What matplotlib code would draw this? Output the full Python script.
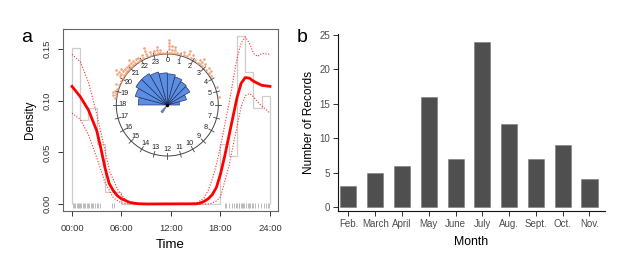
import numpy as np
import matplotlib.pyplot as plt
from matplotlib.patches import Wedge, Circle

plt.rcParams['font.family'] = ['Liberation Sans', 'DejaVu Sans']

# ---- panel a data ----
hist_counts = [13, 7, 8, 5, 1, 1, 0, 0, 0, 0, 0, 0,
               0, 0, 0, 0, 0, 0, 5, 4, 14, 11, 8, 9]  # per hour 0..23

curve_t = [0, 1, 2, 3, 3.5, 4, 4.5, 5, 5.5, 6, 7, 8, 9, 15, 15.5, 16, 16.5, 17,
           17.5, 18, 18.5, 19, 19.5, 20, 20.5, 21, 21.5, 22, 23, 24]
dens = [0.114, 0.104, 0.091, 0.071, 0.054, 0.035, 0.020, 0.013, 0.008, 0.005,
        0.0015, 0.0003, 0, 0.0002, 0.0008, 0.0025, 0.005, 0.009, 0.016, 0.029,
        0.046, 0.065, 0.084, 0.103, 0.117, 0.1225, 0.122, 0.119, 0.115, 0.114]

up_t = [0, 1, 2, 3, 4, 4.6, 5.6, 6.5, 7.5, 15, 16, 16.5, 17, 17.5, 18, 19, 20,
        20.5, 21, 21.5, 22, 22.5, 23, 24]
upper = [0.145, 0.138, 0.118, 0.087, 0.052, 0.031, 0.013, 0.004, 0, 0, 0.006,
         0.013, 0.024, 0.038, 0.056, 0.096, 0.141, 0.156, 0.162, 0.156, 0.146,
         0.143, 0.146, 0.145]

lo_t = [0, 1, 2, 3, 4, 5, 6, 7, 16.5, 17, 17.5, 18, 19, 20, 20.5, 21, 21.5, 22,
        22.5, 23, 24]
lower = [0.088, 0.082, 0.067, 0.045, 0.021, 0.006, 0.001, 0, 0, 0.001, 0.003,
         0.007, 0.036, 0.075, 0.094, 0.105, 0.107, 0.104, 0.099, 0.095, 0.088]

rug_times = [0.1, 0.25, 0.4, 0.55, 0.7, 0.85, 1.0, 1.15, 1.3, 1.45, 1.6, 1.8,
             1.95, 2.1, 2.25, 2.4, 2.6, 2.8, 3.0, 3.2, 3.35, 4.9, 5.1,
             18.5, 18.7, 19.0, 19.4, 19.6, 19.9, 20.05, 20.2, 20.3, 20.45, 20.6,
             20.75, 20.9, 21.1, 21.3, 21.5, 21.6, 21.8, 22.0, 22.2, 22.5, 22.9,
             23.3, 23.5, 23.7, 23.9]

# rose diagram (clock hour of wedge start, length as fraction of clock radius)
rose_hours = [18, 19, 20, 21, 22, 23, 0, 1, 2, 3, 4, 5, 14]
rose_len = [0.57, 0.65, 0.71, 0.71, 0.67, 0.63, 0.61, 0.57, 0.53, 0.51, 0.39,
            0.24, 0.18]

# stacked points around the clock (hour position, number of stacked points)
dot_hours = [18.5, 18.7, 18.9, 19.2, 19.5, 19.8, 20.1, 20.3, 20.5, 20.7, 20.9,
             21.1, 21.3, 21.5, 21.7, 21.9, 22.2, 22.5, 22.8, 23.1, 23.3, 23.5,
             23.7, 23.9, 0.1, 0.3, 0.5, 0.7, 0.9, 1.2, 1.5, 1.8, 2.1, 2.4, 2.6,
             2.8, 3.2, 3.5, 3.8, 4.7, 5.4]
dot_n = [1, 2, 2, 1, 2, 1, 3, 4, 3, 2, 2, 2, 3, 2, 2, 2, 2, 4, 2, 2, 3, 2, 1, 1,
         5, 3, 3, 1, 1, 2, 3, 2, 1, 2, 3, 2, 2, 2, 1, 1, 1]

# ---- panel b data ----
months = ['Feb.', 'March', 'April', 'May', 'June', 'July', 'Aug.', 'Sept.',
          'Oct.', 'Nov.']
records = [3, 5, 6, 16, 7, 24, 12, 7, 9, 4]

W, H = 622, 269
fig = plt.figure(figsize=(W / 100, H / 100), dpi=100)


def px_axes(l, t, r, b):
    return fig.add_axes([l / W, 1 - b / H, (r - l) / W, (b - t) / H])


# ================= panel a =================
ax = px_axes(63, 29, 278, 211)
n_tot = sum(hist_counts)
ax.stairs(np.array(hist_counts) / n_tot, np.arange(25), baseline=0,
          color='#cdcdcd', lw=0.9, zorder=1)
ax.vlines(rug_times, -0.0042, 0.0008, color='#b0b0b0', lw=0.6, zorder=1)
ax.plot(up_t, upper, color='#ff3030', lw=0.8, ls=(0, (1, 1.5)), zorder=2)
ax.plot(lo_t, lower, color='#ff3030', lw=0.8, ls=(0, (1, 1.5)), zorder=2)
ax.plot(curve_t, dens, color='#ff0000', lw=2.0, zorder=3)

ax.set_xlim(-1.09, 24.97)
ax.set_ylim(-0.0068, 0.1696)
ax.set_xticks([0, 6, 12, 18, 24])
ax.set_xticklabels(['00:00', '06:00', '12:00', '18:00', '24:00'])
ax.set_yticks([0, 0.05, 0.10, 0.15])
ax.set_yticklabels(['0.00', '0.05', '0.10', '0.15'], rotation=90, va='center')
ax.tick_params(direction='out', length=3.6, width=0.7, colors='#333333',
               labelsize=6.8, pad=6)
ax.tick_params(axis='y', pad=4.5)
for s in ax.spines.values():
    s.set_color('#666666')
    s.set_linewidth(0.8)
ax.set_xlabel('Time', fontsize=9.5, labelpad=4)
ax.set_ylabel('Density', fontsize=8.3, labelpad=5)
fig.text(27 / W, 1 - 37 / H, 'a', fontsize=14, ha='center', va='center')

# ---- clock inset ----
cx, cy, R, L = 167.3, 105.0, 51.0, 80
axc = px_axes(cx - L, cy - L, cx + L, cy + L)
axc.set_xlim(-L, L)
axc.set_ylim(-L, L)
axc.axis('off')
axc.patch.set_alpha(0)

axc.add_patch(Circle((0, 0), R, fill=False, ec='#444444', lw=0.7))
for h in range(24):
    a = np.deg2rad(h * 15)
    sx, sy = np.sin(a), np.cos(a)
    axc.plot([sx * (R - 3), sx * (R + 3)], [sy * (R - 3), sy * (R + 3)],
             color='#444444', lw=0.6)
    axc.text(sx * R * 0.87, sy * R * 0.87, str(h), fontsize=5.2,
             ha='center', va='center', color='#222222')

for h, f in zip(rose_hours, rose_len):
    axc.add_patch(Wedge((0, 0), f * R, 90 - 15 * (h + 1), 90 - 15 * h,
                        fc='#5b8de2', ec='#1c2b5c',
                        lw=0.45 if f > 0.2 else 0.25))
axc.plot([0], [0], 'o', color='black', ms=1.5)

for h, n in zip(dot_hours, dot_n):
    a = np.deg2rad(h * 15)
    r = R + 1.5 + 3.1 * np.arange(n)
    axc.plot(np.sin(a) * r, np.cos(a) * r, 'o', color='#f39a70', ms=1.9,
             mew=0, alpha=0.9)

# ================= panel b =================
bx = px_axes(338, 34, 605, 211)
x = np.arange(len(months))
bx.bar(x, records, width=0.6, color='#4f4f4f', edgecolor='#7a7a7a', lw=0.4)
bx.set_xlim(-0.39, 9.58)
bx.set_ylim(-0.6, 25.15)
bx.set_xticks(x)
bx.set_xticklabels(months)
bx.set_yticks([0, 5, 10, 15, 20, 25])
bx.tick_params(direction='out', length=3.5, width=0.7, colors='#333333',
               labelcolor='#4d4d4d', labelsize=7, pad=2)
for side in ['top', 'right']:
    bx.spines[side].set_visible(False)
for side in ['left', 'bottom']:
    bx.spines[side].set_color('#111111')
    bx.spines[side].set_linewidth(0.8)
bx.set_xlabel('Month', fontsize=8.8, labelpad=5)
bx.set_ylabel('Number of Records', fontsize=8.6, labelpad=3)
fig.text(302 / W, 1 - 37 / H, 'b', fontsize=14, ha='center', va='center')

fig.savefig('out.png', dpi=100)
